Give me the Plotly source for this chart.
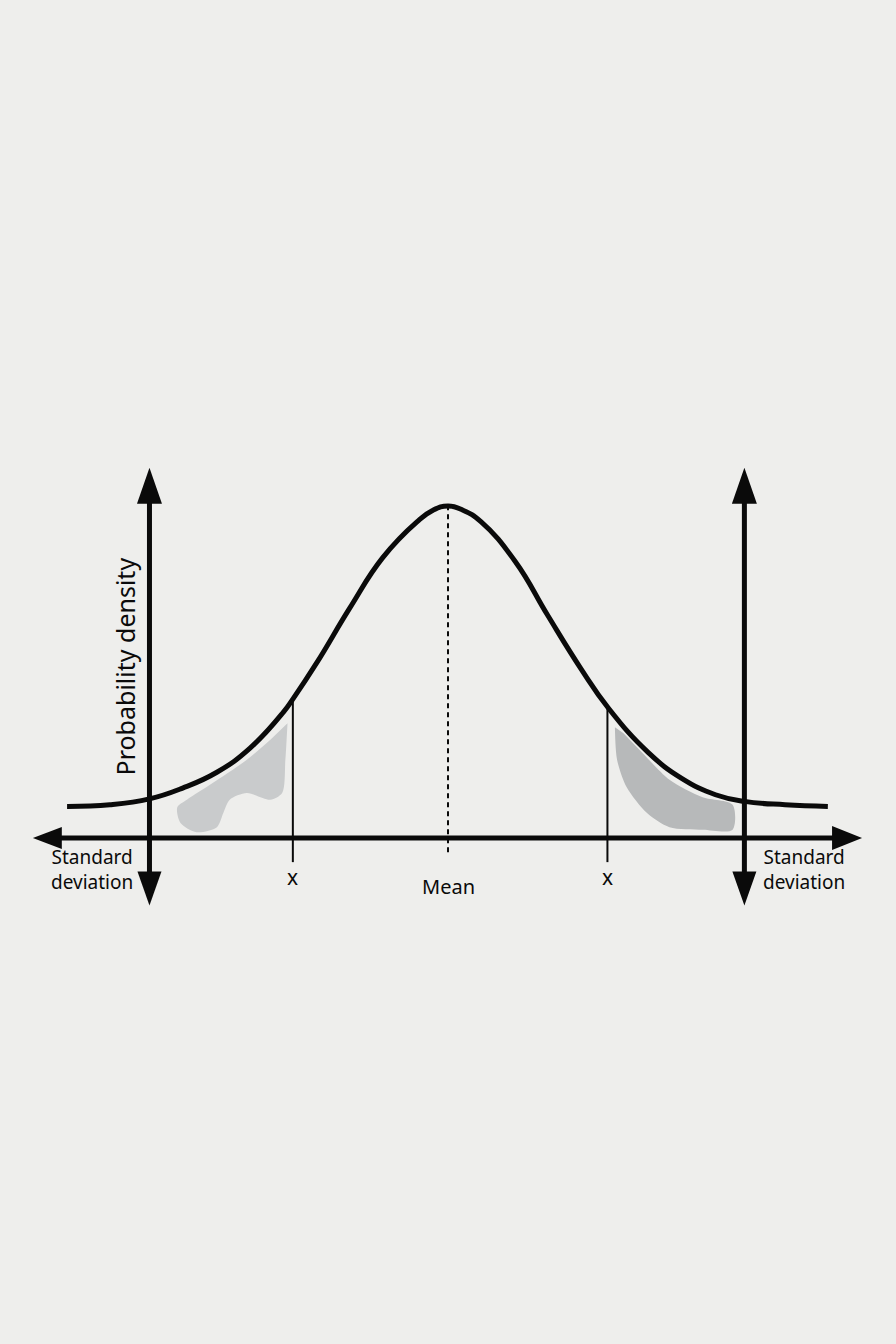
import plotly.graph_objects as go

# z in standard deviations, density values
curve_z = [-3.56, -3.16, -2.79, -2.48, -2.16, -1.85, -1.54, -1.45, -1.22, -0.92, -0.61,
           -0.29, -0.14, 0.0, 0.14, 0.31, 0.63, 0.93, 1.24, 1.50, 1.87, 2.18, 2.50, 2.77, 3.15, 3.55]
curve_d = [0.038, 0.040, 0.047, 0.060, 0.079, 0.108, 0.151, 0.167, 0.212, 0.276, 0.337,
           0.380, 0.394, 0.399, 0.394, 0.380, 0.332, 0.268, 0.204, 0.156, 0.103, 0.072, 0.052, 0.044,
           0.040, 0.038]

# shaded tail regions
left_tail_z = [-1.50, -1.52, -1.55, -1.66, -1.88, -2.04, -2.10, -2.16, -2.35, -2.50,
               -2.53, -2.44, -2.20, -1.88, -1.66]
left_tail_d = [0.138, 0.094, 0.054, 0.046, 0.054, 0.046, 0.030, 0.013, 0.007, 0.018,
               0.037, 0.046, 0.066, 0.094, 0.118]
right_tail_z = [1.56, 1.58, 1.67, 1.86, 2.07, 2.38, 2.66, 2.66, 2.38, 2.07, 1.82, 1.64]
right_tail_d = [0.133, 0.094, 0.061, 0.030, 0.013, 0.010, 0.010, 0.040, 0.049, 0.070, 0.102, 0.126]

# marked values
x_mark_z = [-1.45, 1.49]
x_mark_top = [0.167, 0.156]
mark_bottom = -0.029
mean_z = 0.0
mean_top = 0.399
mean_bottom = -0.017

# axes
h_axis = [-3.88, 3.87]
v_axes = [-2.79, 2.77]
v_axis_range = [-0.081, 0.445]

PX_X = 107.0   # pixels per standard deviation
PX_Y = 832.0   # pixels per density unit
BG = "#eeeeec"
INK = "#0a0a0a"
FONT = "Noto Sans"


def arrow_head(tx, ty, direction, length, width):
    # tip at (tx, ty); length/width in pixels
    if direction in ("left", "right"):
        s = -1 if direction == "left" else 1
        bx = tx - s * length / PX_X
        hw = width / 2 / PX_Y
        return f"M {tx} {ty} L {bx} {ty + hw} L {bx} {ty - hw} Z"
    s = 1 if direction == "up" else -1
    by = ty - s * length / PX_Y
    hw = width / 2 / PX_X
    return f"M {tx} {ty} L {tx + hw} {by} L {tx - hw} {by} Z"


fig = go.Figure()

fig.add_trace(go.Scatter(x=left_tail_z, y=left_tail_d, fill="toself", mode="lines",
                         line=dict(width=0, shape="spline", smoothing=0.8),
                         fillcolor="#c9cbcc", hoverinfo="skip"))
fig.add_trace(go.Scatter(x=right_tail_z, y=right_tail_d, fill="toself", mode="lines",
                         line=dict(width=0, shape="spline", smoothing=0.8),
                         fillcolor="#b7b9ba", hoverinfo="skip"))

shapes = []
ln = dict(color=INK, width=5)
# horizontal axis
shapes.append(dict(type="line", x0=h_axis[0] + 20 / PX_X, x1=h_axis[1] - 20 / PX_X,
                   y0=0, y1=0, line=ln))
shapes.append(dict(type="path", path=arrow_head(h_axis[0], 0, "left", 29, 22),
                   fillcolor=INK, line=dict(width=0)))
shapes.append(dict(type="path", path=arrow_head(h_axis[1], 0, "right", 30, 24),
                   fillcolor=INK, line=dict(width=0)))
# vertical axes
for vx in v_axes:
    shapes.append(dict(type="line", x0=vx, x1=vx,
                       y0=v_axis_range[0] + 25 / PX_Y, y1=v_axis_range[1] - 25 / PX_Y, line=ln))
    shapes.append(dict(type="path", path=arrow_head(vx, v_axis_range[1], "up", 36, 25),
                       fillcolor=INK, line=dict(width=0)))
    shapes.append(dict(type="path", path=arrow_head(vx, v_axis_range[0], "down", 34, 24),
                       fillcolor=INK, line=dict(width=0)))
# x markers
for xz, top in zip(x_mark_z, x_mark_top):
    shapes.append(dict(type="line", x0=xz, x1=xz, y0=mark_bottom, y1=top,
                       line=dict(color=INK, width=2)))
# mean line
shapes.append(dict(type="line", x0=mean_z, x1=mean_z, y0=mean_bottom, y1=mean_top,
                   line=dict(color=INK, width=2, dash="5px,4px")))

fig.add_trace(go.Scatter(x=curve_z, y=curve_d, mode="lines",
                         line=dict(color=INK, width=5, shape="spline", smoothing=1.3),
                         hoverinfo="skip"))

annotations = [
    dict(x=-3.02, y=0.206, text="Probability density", textangle=-90,
         font=dict(size=25, color=INK, family=FONT)),
    dict(x=-3.33, y=-0.038, text="Standard<br>deviation", font=dict(size=19, color=INK, family=FONT)),
    dict(x=3.33, y=-0.038, text="Standard<br>deviation", font=dict(size=19, color=INK, family=FONT)),
    dict(x=x_mark_z[0], y=-0.047, text="x", font=dict(size=21, color=INK, family=FONT)),
    dict(x=x_mark_z[1], y=-0.047, text="x", font=dict(size=21, color=INK, family=FONT)),
    dict(x=mean_z, y=-0.058, text="Mean", font=dict(size=20, color=INK, family=FONT)),
]
for a in annotations:
    a.update(xref="x", yref="y", showarrow=False)

fig.update_layout(
    width=896, height=1344,
    margin=dict(l=0, r=0, t=0, b=0),
    paper_bgcolor=BG, plot_bgcolor=BG,
    showlegend=False,
    shapes=shapes, annotations=annotations,
    xaxis=dict(range=[-448 / PX_X, 448 / PX_X], visible=False, fixedrange=True),
    yaxis=dict(range=[-506 / PX_Y, 838 / PX_Y], visible=False, fixedrange=True),
)

fig.write_html("out.html", config={"displayModeBar": False},
               post_script="document.body.style.margin='0';")
